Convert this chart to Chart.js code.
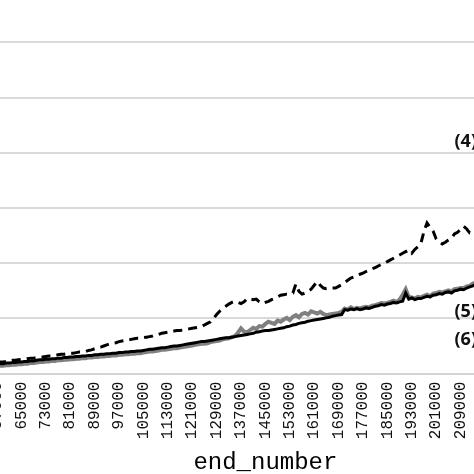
<!DOCTYPE html>
<html>
<head>
<meta charset="utf-8">
<script src="https://cdn.jsdelivr.net/npm/chart.js@4.4.1/dist/chart.umd.min.js"></script>
<style>
  html, body { margin: 0; padding: 0; background: #fff; }
  #wrap { position: relative; width: 474px; height: 474px; overflow: hidden; }
  #chart { position: absolute; left: -11px; top: 0; }
</style>
</head>
<body>
<div id="wrap"><canvas id="chart" width="572" height="477"></canvas></div>
<script>
// end_number categories, one per 1000, label shown every 8000
const firstEnd = 57000;
const lastEnd = 233000;
const endStep = 1000;
const endNumbers = [];
for (let n = firstEnd; n <= lastEnd; n += endStep) endNumbers.push(String(n));

// series (4) dashed black
const series4 = [
  2.0,2.1,2.1,2.2,2.3,
  2.4,2.4,2.5,2.6,2.6,2.7,2.8,2.8,2.9,3.0,3.0,3.1,
  3.2,3.2,3.3,3.4,3.5,3.5,3.6,
  3.7,3.7,3.8,3.9,3.9,4.0,
  4.2,4.3,4.5,4.7,4.8,5.0,5.2,5.4,
  5.5,5.6,5.8,5.9,6.0,6.1,6.2,
  6.3,6.4,6.4,6.5,6.6,6.7,
  6.8,7.0,7.1,7.3,7.4,7.5,7.6,
  7.7,7.8,7.8,7.9,8.0,
  8.1,8.2,8.3,8.4,8.5,
  8.8,9.1,9.4,
  10.0,10.7,11.3,11.8,12.2,
  12.6,12.9,13.1,
  12.9,12.7,13.0,
  13.6,13.5,13.4,13.5,
  13.0,12.7,12.9,13.1,
  13.4,13.6,13.9,14.2,
  14.3,14.4,14.4,14.6,
  16.2,
  14.9,14.4,14.6,
  14.9,15.3,16.0,16.7,
  16.0,15.5,15.4,15.5,15.5,
  15.5,15.8,16.1,16.5,16.9,17.3,
  17.5,17.8,18.0,18.2,
  18.5,18.7,19.0,19.2,19.5,
  19.8,20.0,20.3,20.6,20.9,
  21.2,21.5,21.8,22.1,22.4,
  21.8,22.5,23.0,23.6,
  25.8,27.3,26.5,
  25.8,24.4,23.9,
  23.5,23.8,24.2,24.5,25.3,
  25.6,26.1,26.7,
  26.2,25.5,25.6,25.8
];

// series (5) grey
const series5 = [
  1.3,1.4,1.4,1.5,1.5,1.6,1.6,1.7,1.7,1.8,1.8,1.9,1.9,2.0,2.1,
  2.1,2.2,2.2,2.3,2.3,2.4,2.4,2.5,2.5,2.6,2.6,2.7,2.7,
  2.8,2.8,2.9,2.9,3.0,3.0,3.1,3.1,3.2,3.2,
  3.3,3.3,3.4,3.4,3.5,3.5,3.6,3.6,3.7,3.7,3.8,3.9,4.0,
  4.0,4.1,4.2,4.3,4.3,4.4,4.5,4.6,4.6,4.7,4.8,4.9,5.0,
  5.1,5.2,5.3,5.4,5.4,5.5,5.7,5.8,5.9,6.0,
  6.2,6.3,6.4,6.6,6.8,
  7.4,8.2,7.6,7.5,7.9,8.3,8.1,8.6,
  8.5,9.0,9.4,9.2,9.0,9.6,9.4,
  9.8,10.1,9.7,10.3,10.6,10.2,
  10.8,11.0,10.7,11.3,11.1,10.9,11.2,10.8,10.6,10.7,
  10.8,10.9,11.0,11.2,
  11.8,11.6,12.0,11.7,11.9,11.8,12.0,12.1,12.0,
  12.3,12.4,12.6,12.8,
  12.7,12.8,13.0,13.2,13.0,13.4,14.3,
  15.3,
  13.9,13.8,13.6,13.9,13.8,
  14.1,14.3,14.0,14.5,14.6,14.8,
  14.7,14.9,15.1,14.9,15.3,15.4,15.5,
  15.5,15.8,15.9,16.3,16.5
];

// series (6) solid black
const series6 = [
  1.7,1.8,1.8,1.9,1.9,2.0,2.0,2.1,2.1,2.2,2.2,2.3,2.3,2.4,2.5,
  2.5,2.6,2.6,2.7,2.7,2.8,2.8,2.9,2.9,3.0,3.0,3.1,3.1,
  3.2,3.2,3.3,3.3,3.4,3.4,3.5,3.5,3.6,3.6,
  3.7,3.7,3.8,3.8,3.9,3.9,4.0,4.0,4.1,4.1,4.2,4.3,4.4,
  4.4,4.5,4.6,4.7,4.7,4.8,4.9,5.0,5.0,5.1,5.2,5.3,5.4,
  5.5,5.6,5.7,5.8,5.8,5.9,6.0,6.1,6.2,6.3,
  6.4,6.5,6.5,6.6,6.7,
  6.8,6.9,7.0,7.1,7.2,7.3,7.5,7.6,
  7.7,7.8,7.8,7.9,8.0,8.1,8.2,
  8.3,8.5,8.6,8.8,8.9,9.1,
  9.2,9.3,9.5,9.6,9.7,9.8,9.9,10.0,10.1,10.2,
  10.4,10.5,10.6,10.7,
  11.6,11.5,11.7,11.6,11.8,11.6,11.7,11.9,11.8,
  12.0,12.2,12.3,12.5,
  12.4,12.6,12.7,12.9,12.8,13.0,13.1,
  14.6,
  13.5,13.7,13.4,13.6,13.6,
  13.8,14.0,13.9,14.2,14.3,14.5,
  14.4,14.7,14.8,14.6,15.0,15.1,15.3,
  15.2,15.5,15.7,15.9,16.2
];

const seriesNames = ['(4)', '(5)', '(6)'];

// text labels for the three curves, drawn near the right edge
const curveLabels = {
    id: 'curveLabels',
    afterDatasetsDraw(chart) {
        const ctx = chart.ctx;
        const xs = chart.scales.x, ys = chart.scales.y;
        const spots = [[150, 42.0], [150, 11.1], [150, 6.2]];
        ctx.save();
        ctx.font = 'bold 18px "Open Sans", sans-serif';
        ctx.fillStyle = '#111';
        ctx.textAlign = 'left';
        ctx.textBaseline = 'middle';
        seriesNames.forEach((name, i) => {
            ctx.fillText(name, xs.getPixelForValue(spots[i][0]), ys.getPixelForValue(spots[i][1]));
        });
        ctx.restore();
    }
};

const ctx = document.getElementById('chart').getContext('2d');
const chart = new Chart(ctx, {
    type: 'line',
    data: {
        labels: endNumbers,
        datasets: [
            { label: seriesNames[2], data: series6, borderColor: '#000', borderWidth: 3, order: 0 },
            { label: seriesNames[1], data: series5, borderColor: '#808080', borderWidth: 4, order: 1 },
            { label: seriesNames[0], data: series4, borderColor: '#000', borderWidth: 3, borderDash: [9, 6], order: 2 }
        ]
    },
    options: {
        responsive: false,
        animation: false,
        layout: { padding: 0 },
        elements: { point: { radius: 0 }, line: { tension: 0 } },
        plugins: { legend: { display: false }, tooltip: { enabled: false } },
        scales: {
            x: {
                grid: { display: false, drawTicks: false },
                border: { display: true, color: '#d4d4d4', width: 2 },
                ticks: {
                    autoSkip: false,
                    minRotation: 90,
                    maxRotation: 90,
                    padding: 8,
                    color: '#111',
                    font: { family: '"Liberation Mono", monospace', size: 16 },
                    callback: function (value, index) {
                        return index % 8 === 0 ? this.getLabelForValue(value) : null;
                    }
                },
                title: {
                    display: true,
                    text: 'end_number',
                    color: '#000',
                    font: { family: '"Liberation Mono", monospace', size: 24 },
                    padding: { top: 1, bottom: 0 }
                }
            },
            y: {
                min: 0,
                max: 67.7,
                grid: { color: '#d9d9d9', lineWidth: 2, drawTicks: false },
                border: { display: false },
                ticks: { display: false, stepSize: 10, includeBounds: false }
            }
        }
    },
    plugins: [curveLabels]
});
</script>
</body>
</html>
